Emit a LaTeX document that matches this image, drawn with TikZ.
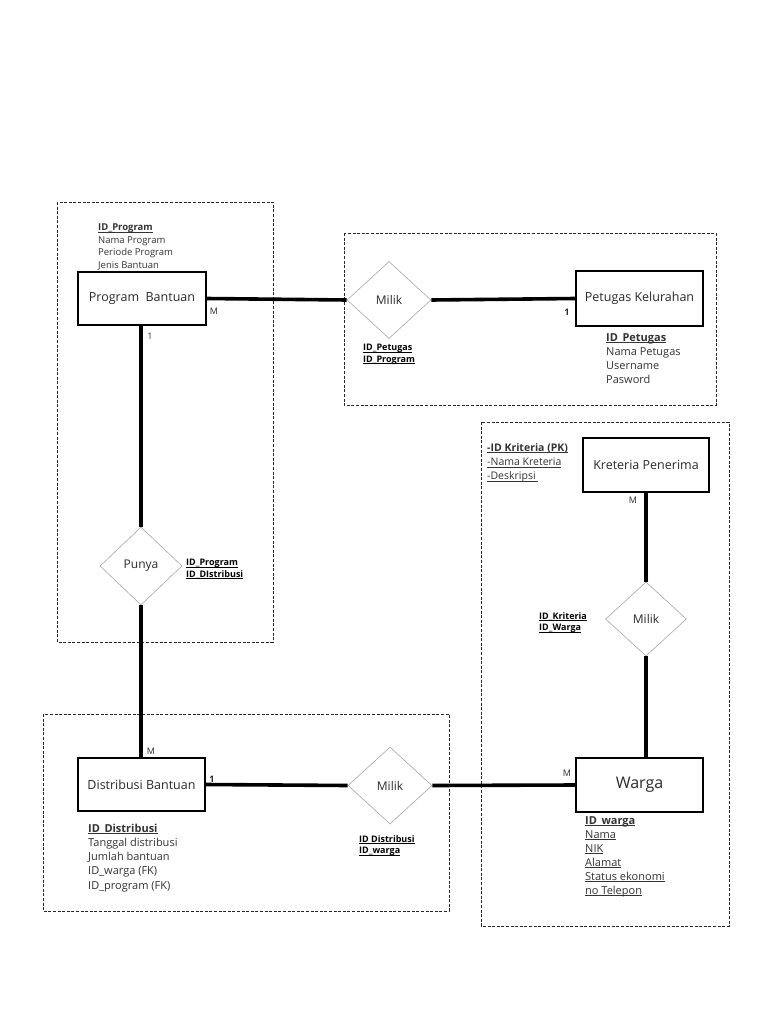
\documentclass[tikz,border=0pt]{standalone}
\usepackage{fontspec}
\setmainfont{Open Sans}
\usetikzlibrary{shapes.geometric}
\definecolor{txt}{HTML}{2A2A2A}
\definecolor{attr}{HTML}{333333}
\newcommand\ulx[1]{\underline{\smash{#1}}\vphantom{#1}}
\tikzset{
  ent/.style={draw=black, line width=1.2pt, fill=white, inner sep=0pt, font=\fontsize{12.5}{15}\selectfont, text=txt},
  rel/.style={draw=black!35, line width=0.6pt, diamond, fill=white, inner sep=0pt, minimum width=84pt, minimum height=77pt, font=\fontsize{12}{14}\selectfont, text=txt},
  conn/.style={line width=3.6pt, black},
  grp/.style={draw=black!85, line width=0.9pt, dash pattern=on 3pt off 1.6pt},
  attrs/.style={anchor=north west, align=left, inner sep=0pt, text=attr},
  keys/.style={anchor=north west, align=left, inner sep=0pt, text=black, font=\fontsize{9}{11.5}\selectfont\bfseries},
  card/.style={inner sep=0pt, font=\fontsize{9}{10}\selectfont, text=txt},
}
\begin{document}
\begin{tikzpicture}[x=1pt,y=-1pt]
\useasboundingbox[fill=white] (0,0) rectangle (768,1024);
% group frames
\draw[grp] (57,202) rectangle (273,642);
\draw[grp] (344,233) rectangle (716,405);
\draw[grp] (481,422) rectangle (729,926);
\draw[grp] (43,714) rectangle (449,911);

% entities
\node[ent, minimum width=128pt, minimum height=53pt] (pb) at (142,298.5) {Program\ \ Bantuan};
\node[ent, minimum width=127pt, minimum height=55pt] (pk) at (639.5,298.5) {Petugas Kelurahan};
\node[ent, minimum width=126pt, minimum height=54pt] (kp) at (646,465) {Kreteria Penerima};
\node[ent, minimum width=127pt, minimum height=53pt] (db) at (141.5,784.5) {Distribusi Bantuan};
\node[ent, minimum width=127pt, minimum height=54pt, font=\fontsize{16}{19}\selectfont] (wg) at (639.5,785) {Warga};

% relationships
\node[rel] (m1) at (389,300) {Milik};
\node[rel, minimum width=82pt, minimum height=78pt] (py) at (141,566) {Punya};
\node[rel, minimum width=81pt, minimum height=74pt] (m3) at (646,619) {Milik};
\node[rel] (m2) at (390,785.5) {Milik};

% connectors
\coordinate (pbs) at (pb.south -| py.north);
\draw[conn] (pb.east) -- (m1.west);
\draw[conn] (m1.east) -- (pk.west);
\draw[conn] (pbs) -- (py.north);
\draw[conn] (py.south) -- (db.north -| py.south);
\draw[conn] (db.east) -- (m2.west);
\draw[conn] (m2.east) -- (wg.west);
\draw[conn] (kp.south) -- (m3.north);
\draw[conn] (m3.south) -- (wg.north -| m3.south);

% cardinalities
\node[card] (c1) at (214,311) {M};
\node[card] (c2) at (150,336) {1};
\node[card, font=\fontsize{9}{10}\selectfont\bfseries] (c3) at (567,312) {1};
\node[card] (c4) at (633,500) {M};
\node[card] (c5) at (151,751) {M};
\node[card, font=\fontsize{9}{10}\selectfont\bfseries] (c6) at (212,779) {1};
\node[card] (c7) at (567,773) {M};

% attributes
\node[attrs, font=\fontsize{9.5}{12.7}\selectfont] (a1) at (98,223.5)
  {\textbf{\ulx{ID\_Program}}\\Nama Program\\Periode Program\\Jenis Bantuan};
\node[attrs, font=\fontsize{11}{14.3}\selectfont] (a2) at (606,333)
  {\textbf{\ulx{ID\_Petugas}}\\Nama Petugas\\Username\\Pasword};
\node[attrs, font=\fontsize{10.5}{14.4}\selectfont] (a3) at (487,443)
  {\textbf{\ulx{-ID Kriteria (PK)}}\\\ulx{-Nama Kreteria}\\\ulx{-Deskripsi\ }};
\node[attrs, font=\fontsize{11}{14.3}\selectfont] (a4) at (88,823.5)
  {\textbf{\ulx{ID\_Distribusi}}\\Tanggal distribusi\\Jumlah bantuan\\ID\_warga (FK)\\ID\_program (FK)};
\node[attrs, font=\fontsize{11}{14}\selectfont] (a5) at (585,816)
  {\textbf{\ulx{ID\_warga}}\\\ulx{Nama}\\\ulx{NIK}\\\ulx{Alamat}\\\ulx{Status ekonomi}\\\ulx{no Telepon}};

% relationship keys
\node[keys] (k1) at (363,344) {\ulx{ID\_Petugas}\\\ulx{ID\_Program}};
\node[keys] (k2) at (186,559) {\ulx{ID\_Program}\\\ulx{ID\_DIstribusi}};
\node[keys] (k3) at (539,612) {\ulx{ID\_Kriteria}\\\ulx{ID\_Warga}};
\node[keys] (k4) at (359,835) {\ulx{ID Distribusi}\\\ulx{ID\_warga}};
\end{tikzpicture}
\end{document}
